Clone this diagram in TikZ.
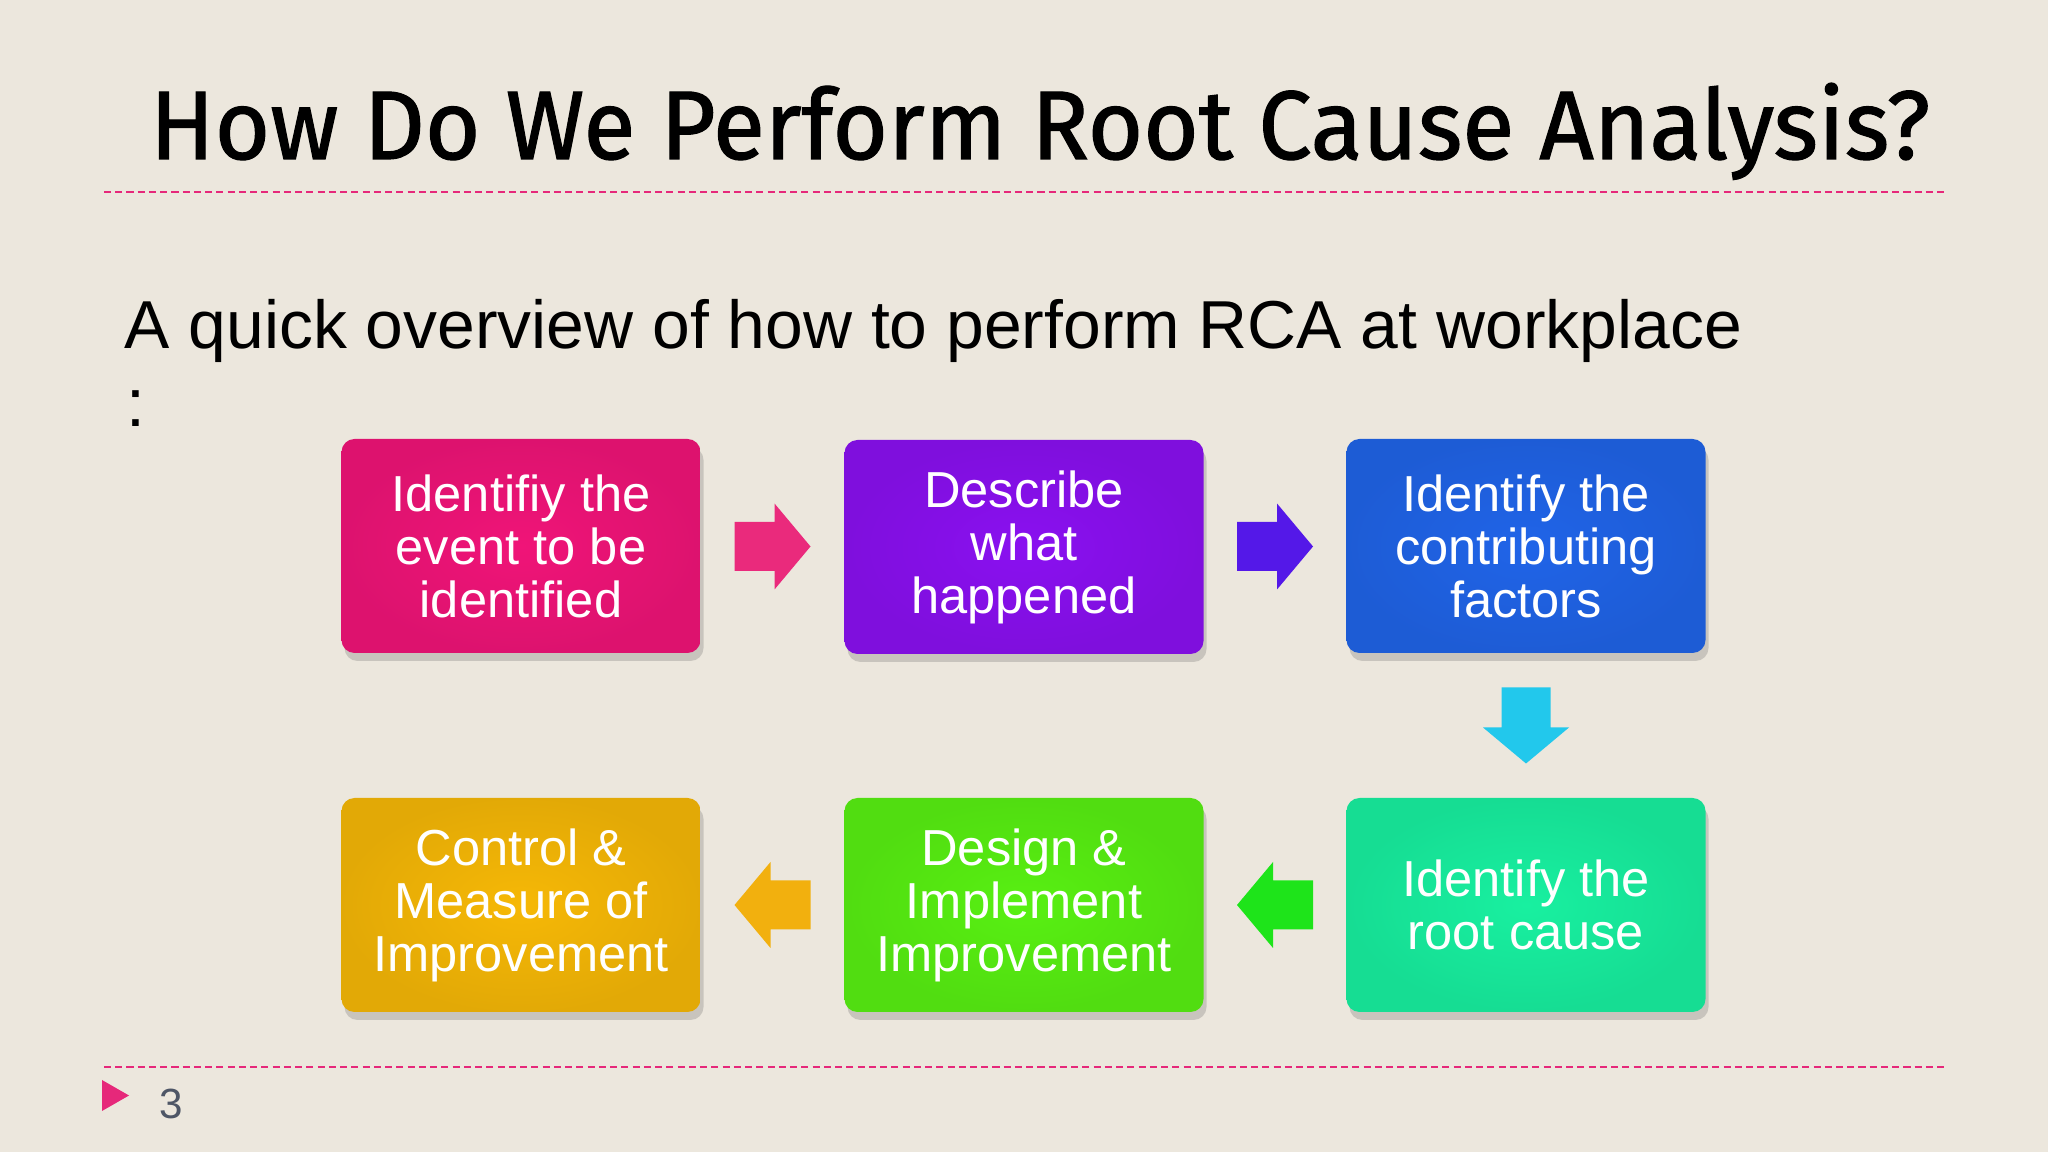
\documentclass[tikz,border=0pt]{standalone}
\usepackage{fontspec}
\usepackage{graphicx}
\setmainfont{Liberation Sans}
\newfontfamily\titlefont[FakeBold=1.2]{Fira Sans}
\usetikzlibrary{calc,shadows}
\definecolor{rcaPaper}{HTML}{ECE7DD}
\definecolor{rcaDash}{HTML}{E6287A}
\definecolor{rcaGray}{HTML}{4E5666}
\definecolor{rcaPink}{HTML}{F01478}
\definecolor{rcaPurple}{HTML}{8A10F0}
\definecolor{rcaBlue}{HTML}{2064E8}
\definecolor{rcaTeal}{HTML}{18F0A0}
\definecolor{rcaGreen}{HTML}{58F012}
\definecolor{rcaOrange}{HTML}{F6B806}
\definecolor{arrPink}{HTML}{EA2A7C}
\definecolor{arrViolet}{HTML}{5418E8}
\definecolor{arrCyan}{HTML}{22C8EC}
\definecolor{arrGreen}{HTML}{1EE41A}
\definecolor{arrOrange}{HTML}{F2B00E}

\tikzset{
  stepbox/.style={rounded corners=1.3mm, minimum width=3.59cm, minimum height=2.14cm,
    inner sep=0pt, align=center, text=white, font=\fontsize{14.4}{15.1}\selectfont,
    drop shadow={shadow xshift=0.3mm, shadow yshift=-0.8mm, opacity=0.22, fill=black!70}},
  dashrule/.style={draw=rcaDash, line width=0.6pt, dash pattern=on 2pt off 1.2pt},
  flowarrow/.pic={
    \fill[pic actions] (-38,-24.5) -- (2,-24.5) -- (2,-43) -- (38,0) -- (2,43) -- (2,24.5) -- (-38,24.5) -- cycle;
  }
}

\begin{document}
\begin{tikzpicture}[x=0.1mm, y=-0.1mm]
  \useasboundingbox[fill=rcaPaper] (0,0) rectangle (2048,1152);

  % heading and rules
  \node[anchor=base, inner sep=0pt] (title) at (1040,159)
    {\resizebox{17.8cm}{0.76cm}{\titlefont How Do We Perform Root Cause Analysis?}};
  \draw[dashrule] (104,192) -- (1946,192);
  \node[anchor=base west, inner sep=0pt, font=\fontsize{19.3}{23}\selectfont] (intro) at (124,349)
    {A quick overview of how to perform RCA at workplace};
  \node[anchor=base west, inner sep=0pt, font=\fontsize{19.3}{23}\selectfont] (colon) at (126,427) {:};

  % the six steps
  \foreach \name/\x/\y/\col/\txt in {
      event/521/546/rcaPink/{Identifiy the\\event to be\\identified},
      describe/1024/547/rcaPurple/{Describe\\what\\happened},
      factors/1526/546/rcaBlue/{Identify the\\contributing\\factors},
      rootcause/1526/905/rcaTeal/{Identify the\\root cause},
      design/1024/905/rcaGreen/{Design \&\\Implement\\Improvement},
      control/521/905/rcaOrange/{Control \&\\Measure of\\Improvement}}{
    \node[stepbox, inner color=\col, outer color=\col!92!black] (\name) at (\x,\y) {\txt};
  }

  % block arrows between steps
  \pic[fill=arrPink] at ($(event.east)!0.5!(describe.west)$) {flowarrow};
  \pic[fill=arrViolet] at ($(describe.east)!0.5!(factors.west)$) {flowarrow};
  \pic[rotate=-90, fill=arrCyan] at ($(factors.south)!0.5!(rootcause.north)$) {flowarrow};
  \pic[rotate=180, fill=arrGreen] at ($(rootcause.west)!0.5!(design.east)$) {flowarrow};
  \pic[rotate=180, fill=arrOrange] at ($(design.west)!0.5!(control.east)$) {flowarrow};

  % footer
  \draw[dashrule] (104,1067) -- (1946,1067);
  \fill[rcaDash] (102,1080) -- (129,1095.5) -- (102,1111) -- cycle;
  \node[anchor=base west, inner sep=0pt, text=rcaGray, font=\fontsize{12}{14}\selectfont] (pagenum) at (159,1118) {3};
\end{tikzpicture}
\end{document}
